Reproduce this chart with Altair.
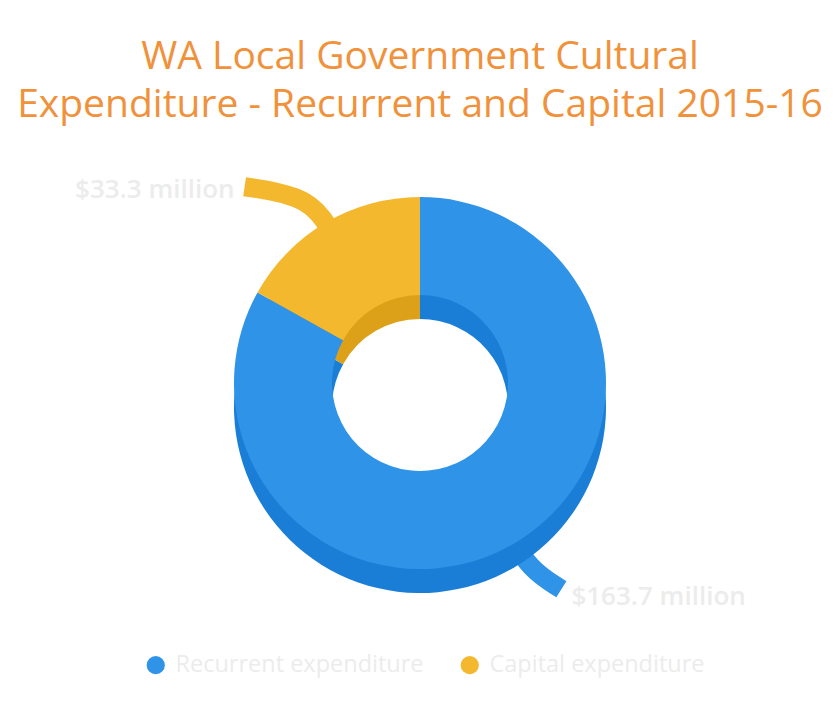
import altair as alt
import pandas as pd

# ---- data ----
categories = ["Recurrent expenditure", "Capital expenditure"]
values = [163.7, 33.3]
value_labels = ["$163.7 million", "$33.3 million"]
order_idx = [0, 1]

# ---- styles ----
top_colors = ["#2F93E8", "#F4B82E"]
side_colors = ["#1B7ED6", "#DCA118"]
title_color = "#F0923B"
text_color = "#ECECEC"
FONT = "Open Sans"

CX = 412
CY = 238
DEPTH = 24
R_OUT = 186
R_IN = 88
total = sum(values)

df = pd.DataFrame({
    "category": categories,
    "value": values,
    "label": value_labels,
    "ord": order_idx,
})

theta_scale = alt.Scale(domain=[0, total])
color_scale = alt.Scale(domain=categories, range=top_colors)

color_enc = alt.Color(
    "category:N",
    scale=color_scale,
    legend=alt.Legend(
        title=None,
        orient="none",
        legendX=136,
        legendY=508,
        direction="horizontal",
        symbolType="circle",
        symbolSize=330,
        symbolStrokeWidth=0,
        labelFontSize=23.5,
        labelFont=FONT,
        labelColor=text_color,
        labelLimit=0,
        labelOffset=8,
        columnPadding=34,
    ),
)

base = alt.Chart(df).encode(
    theta=alt.Theta("value:Q", stack=True, scale=theta_scale),
    order=alt.Order("ord:Q"),
)

side = base.mark_arc(outerRadius=R_OUT, innerRadius=R_IN).encode(
    fill=alt.Fill("category:N", scale=alt.Scale(domain=categories, range=side_colors), legend=None),
    x=alt.value(CX),
    y=alt.value(CY + DEPTH),
)

top = base.mark_arc(outerRadius=R_OUT, innerRadius=R_IN).encode(
    color=color_enc,
    x=alt.value(CX),
    y=alt.value(CY),
)

# leader geometry derived from each slice's mid angle
geo = alt.Chart(df).transform_window(
    cum="sum(value)", sort=[alt.SortField("ord")], frame=[None, 0]
).transform_calculate(
    a=f"2 * PI * (datum.cum - datum.value / 2) / {total}",
).transform_calculate(
    s="sin(datum.a) < 0 ? -1 : 1",
    hl="datum.ord == 0 ? 32 : 66",
    vl="datum.ord == 0 ? 20 : 10",
).transform_calculate(
    x0=f"{CX} + {R_OUT - 14} * sin(datum.a)",
    y0=f"{CY} - {R_OUT - 14} * cos(datum.a)",
    x1=f"{CX} + {R_OUT + 30} * sin(datum.a)",
    y1=f"{CY} - {R_OUT + 30} * cos(datum.a)",
).transform_calculate(
    x2="datum.x1 + datum.s * datum.hl",
    y2="datum.y1 + datum.s * datum.vl",
).transform_calculate(
    lx="datum.x2 + datum.s * 10",
    ly="datum.y2 + (datum.s < 0 ? 3 : 8)",
)

leader = geo.transform_calculate(
    step="[0, 1, 2]"
).transform_flatten(["step"]).transform_calculate(
    px="datum.step == 0 ? datum.x0 : (datum.step == 1 ? datum.x1 : datum.x2)",
    py="datum.step == 0 ? datum.y0 : (datum.step == 1 ? datum.y1 : datum.y2)",
).mark_line(strokeWidth=19, interpolate="basis", strokeCap="butt").encode(
    x=alt.X("px:Q", scale=None, axis=None),
    y=alt.Y("py:Q", scale=None, axis=None),
    color=alt.Color("category:N", scale=color_scale),
    detail="category:N",
    order="step:Q",
)

label_left = geo.transform_filter(
    "datum.s < 0"
).mark_text(
    align="right", baseline="middle",
    fontSize=26, font=FONT, fontWeight=600, color=text_color,
).encode(
    x=alt.X("lx:Q", scale=None, axis=None),
    y=alt.Y("ly:Q", scale=None, axis=None),
    text="label:N",
)

label_right = geo.transform_filter(
    "datum.s > 0"
).mark_text(
    align="left", baseline="middle",
    fontSize=26, font=FONT, fontWeight=600, color=text_color,
).encode(
    x=alt.X("lx:Q", scale=None, axis=None),
    y=alt.Y("ly:Q", scale=None, axis=None),
    text="label:N",
)

chart = alt.layer(leader, side, top, label_left, label_right).properties(
    width=824,
    height=540,
    padding={"top": 30, "left": 0, "right": 0, "bottom": 0},
    background="#FFFFFF",
    title=alt.TitleParams(
        text=["WA Local Government Cultural", "Expenditure - Recurrent and Capital 2015-16"],
        fontSize=39,
        font=FONT,
        fontWeight=500,
        color=title_color,
        lineHeight=48,
        anchor="middle",
        offset=20,
    ),
).configure_view(stroke=None)

chart.save("out.html", embed_options={"renderer": "svg", "actions": False})
